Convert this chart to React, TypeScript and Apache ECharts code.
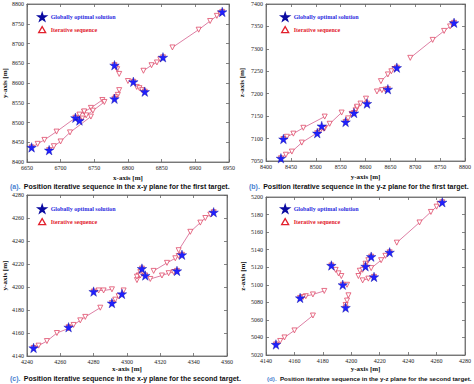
import React, { useEffect, useRef } from "react";
import * as echarts from "echarts";

// ---------- data ----------
// Panel (a): x-y plane, first target
const starsA = [[6940, 8780], [6852, 8665], [6808, 8603], [6780, 8645], [6825, 8578], [6780, 8560], [6722, 8512], [6728, 8505], [6657, 8437], [6683, 8430]];
const seqsA = [
  [[6866, 8690], [6905, 8735], [6922, 8757], [6932, 8770], [6937, 8776], [6940, 8780]],
  [[6823, 8631], [6835, 8645], [6843, 8652], [6848, 8660], [6852, 8665]],
  [[6787, 8623], [6784, 8635], [6782, 8640], [6780, 8645]],
  [[6787, 8582], [6785, 8570], [6782, 8564], [6780, 8560]],
  [[6800, 8605], [6808, 8603]],
  [[6813, 8590], [6817, 8587], [6821, 8582], [6825, 8578]],
  [[6762, 8557], [6745, 8537], [6735, 8527], [6728, 8520], [6722, 8512]],
  [[6765, 8552], [6748, 8530], [6738, 8518], [6732, 8510], [6728, 8505]],
  [[6735, 8528], [6694, 8477], [6676, 8456], [6666, 8446], [6657, 8437]],
  [[6745, 8515], [6714, 8475], [6700, 8452], [6690, 8440], [6683, 8430]],
];
// Panel (b): y-z plane, first target
const starsB = [[8778, 7358], [8663, 7258], [8645, 7210], [8603, 7178], [8577, 7157], [8560, 7137], [8512, 7128], [8503, 7112], [8435, 7099], [8430, 7056]];
const seqsB = [
  [[8690, 7280], [8735, 7320], [8758, 7340], [8770, 7350], [8775, 7355], [8778, 7358]],
  [[8631, 7228], [8645, 7243], [8652, 7250], [8658, 7255], [8663, 7258]],
  [[8623, 7205], [8633, 7208], [8640, 7209], [8645, 7210]],
  [[8601, 7189], [8603, 7178]],
  [[8590, 7178], [8583, 7168], [8580, 7163], [8577, 7157]],
  [[8583, 7171], [8572, 7155], [8565, 7145], [8560, 7137]],
  [[8518, 7149], [8475, 7124], [8455, 7111], [8442, 7104], [8435, 7099]],
  [[8552, 7158], [8528, 7133], [8518, 7123], [8508, 7116], [8503, 7112]],
  [[8516, 7122], [8472, 7091], [8452, 7071], [8440, 7064], [8430, 7056]],
];
// Panel (c): x-y plane, second target
const starsC = [[4352, 4265], [4333, 4228], [4330, 4214], [4309, 4216], [4311, 4210], [4280, 4196], [4297, 4194], [4291, 4186], [4265, 4165], [4244, 4147]];
const seqsC = [
  [[4331, 4232], [4338, 4248], [4344, 4256], [4347, 4260], [4350, 4263], [4352, 4265]],
  [[4316, 4214], [4324, 4221], [4329, 4225], [4331, 4227], [4333, 4228]],
  [[4314, 4207], [4321, 4210], [4325, 4212], [4328, 4213], [4330, 4214]],
  [[4306, 4206], [4307, 4210], [4308, 4213], [4309, 4216]],
  [[4306, 4209], [4308, 4210], [4311, 4210]],
  [[4291, 4198], [4286, 4197], [4283, 4197], [4280, 4196]],
  [[4298, 4197], [4295, 4192], [4293, 4189], [4291, 4186]],
  [[4284, 4182], [4275, 4174], [4272, 4171], [4268, 4167], [4265, 4165]],
  [[4265, 4164], [4258, 4160], [4252, 4153], [4247, 4149], [4244, 4147]],
];
// Panel (d): y-z plane, second target
const starsD = [[4264, 5194], [4227, 5137], [4216, 5109], [4214, 5132], [4210, 5121], [4186, 5122], [4194, 5100], [4196, 5074], [4164, 5085], [4147, 5032]];
const seqsD = [
  [[4232, 5148], [4248, 5171], [4256, 5183], [4260, 5189], [4262, 5192], [4264, 5194]],
  [[4214, 5119], [4221, 5128], [4224, 5133], [4227, 5137]],
  [[4208, 5105], [4212, 5107], [4216, 5109]],
  [[4206, 5116], [4210, 5124], [4212, 5128], [4214, 5132]],
  [[4205, 5110], [4208, 5117], [4210, 5121]],
  [[4193, 5110], [4191, 5113], [4189, 5117], [4186, 5122]],
  [[4197, 5100], [4194, 5100]],
  [[4198, 5088], [4197, 5082], [4196, 5077], [4196, 5074]],
  [[4181, 5093], [4173, 5089], [4168, 5087], [4166, 5086], [4164, 5085]],
  [[4173, 5065], [4160, 5048], [4153, 5040], [4150, 5036], [4147, 5032]],
];

const panelNames = [
  { x: "x-axis [m]", y: "y-axis [m]" },
  { x: "y-axis [m]", y: "z-axis [m]" },
  { x: "x-axis [m]", y: "y-axis [m]" },
  { x: "y-axis [m]", y: "z-axis [m]" },
];
const xRanges = [[6650, 6950, 50], [8400, 8800, 50], [4240, 4360, 20], [4140, 4280, 20]];
const yRanges = [[8400, 8800, 50], [7050, 7400, 50], [4140, 4280, 20], [5020, 5200, 20]];
const captions = [
  ["(a).", "Position iterative sequence in the x-y plane for the first target."],
  ["(b).", "Position iterative sequence in the y-z plane for the first target."],
  ["(c).", "Position iterative sequence in the x-y plane for the second target."],
  ["(d).", "Position iterative sequence in the y-z plane for the second target."],
];
const STAR_NAME = "Globally optimal solution";
const SEQ_NAME = "Iterative sequence";

// ---------- layout / style ----------
const grids = [
  { left: 23, top: 4, width: 206, height: 158 },
  { left: 266, top: 4, width: 201, height: 157 },
  { left: 23, top: 195, width: 204, height: 161 },
  { left: 266, top: 197, width: 200, height: 158 },
];
const xNameGaps = [12, 12, 9, 10];
const yNameGaps = [18, 21, 15, 20];
const legendPos = [
  { left: 33, top: 8 },
  { left: 276, top: 8 },
  { left: 33, top: 200 },
  { left: 276, top: 200 },
];
const captionPos = [
  { left: 10, top: 180, size: 7 },
  { left: 249, top: 180, size: 7 },
  { left: 10, top: 372, size: 7 },
  { left: 267, top: 372, size: 6.2 },
];

const STAR = "path://M50,0 L61,35 L98,35 L68,57 L79,91 L50,70 L21,91 L32,57 L2,35 L39,35 Z";
const AX = "#666";
const SERIF = "Liberation Serif";

export default function App() {
  const ref = useRef<HTMLDivElement>(null);
  useEffect(() => {
    if (!ref.current) return;
    const chart = echarts.init(ref.current, null, { renderer: "svg" });
    const xAxis: any[] = [];
    const yAxis: any[] = [];
    const series: any[] = [];
    const allStars = [starsA, starsB, starsC, starsD];
    const allSeqs = [seqsA, seqsB, seqsC, seqsD];
    const label = { fontSize: 6, color: "#222", fontFamily: SERIF, margin: 3, formatter: (v: number) => String(v) };
    const nameStyle = { fontSize: 7, fontWeight: "bold", fontFamily: SERIF, color: "#111" };
    for (let i = 0; i < 4; i++) {
      const [xmin, xmax, xi] = xRanges[i];
      const [ymin, ymax, yi] = yRanges[i];
      const common = {
        gridIndex: i,
        type: "value",
        splitLine: { show: false },
        axisLine: { show: true, lineStyle: { color: AX, width: 0.8 } },
        axisTick: { show: true, inside: true, length: 3, lineStyle: { color: AX, width: 0.8 } },
      };
      xAxis.push({
        ...common, min: xmin, max: xmax, interval: xi, position: "bottom", axisLabel: label,
        name: panelNames[i].x, nameLocation: "middle", nameGap: xNameGaps[i], nameTextStyle: nameStyle,
      });
      xAxis.push({ ...common, min: xmin, max: xmax, interval: xi, position: "top", axisLabel: { show: false } });
      yAxis.push({
        ...common, min: ymin, max: ymax, interval: yi, position: "left", axisLabel: label,
        name: panelNames[i].y, nameLocation: "middle", nameGap: yNameGaps[i], nameTextStyle: nameStyle,
      });
      yAxis.push({ ...common, min: ymin, max: ymax, interval: yi, position: "right", axisLabel: { show: false } });

      allSeqs[i].forEach((seq) => {
        series.push({
          type: "line", name: SEQ_NAME, xAxisIndex: 2 * i, yAxisIndex: 2 * i,
          data: seq, symbol: "triangle", symbolSize: 5, symbolRotate: 180,
          lineStyle: { color: "#d9709a", width: 0.9 },
          itemStyle: { color: "#ffffff", borderColor: "#e04a68", borderWidth: 0.8 },
          z: 3,
        });
      });
      series.push({
        type: "scatter", name: STAR_NAME, xAxisIndex: 2 * i, yAxisIndex: 2 * i,
        data: allStars[i], symbol: STAR, symbolSize: 9.5,
        itemStyle: { color: "#2020ff", borderColor: "#0a0aa0", borderWidth: 0.4, opacity: 1 },
        z: 5,
      });
    }
    const legend = legendPos.map((p) => ({
      ...p, orient: "vertical", itemWidth: 7, itemHeight: 6, itemGap: 5, selectedMode: false,
      textStyle: { fontSize: 6, fontFamily: SERIF, fontWeight: "bold" },
      data: [
        { name: STAR_NAME, icon: STAR, itemStyle: { color: "#2020ff" }, textStyle: { color: "#2a2ae0" } },
        { name: SEQ_NAME, icon: "triangle", itemStyle: { color: "#fff", borderColor: "#e2202c", borderWidth: 1.3 }, textStyle: { color: "#e2202c" } },
      ],
    }));
    const graphic = captions.map((c, i) => ({
      type: "text", left: captionPos[i].left, top: captionPos[i].top,
      style: {
        text: `{a|${c[0]}} {b|${c[1]}}`,
        rich: {
          a: { fill: "#4a7fd0", fontSize: captionPos[i].size, fontWeight: "bold", fontFamily: "Liberation Sans" },
          b: { fill: "#111", fontSize: captionPos[i].size, fontWeight: "bold", fontFamily: "Liberation Sans" },
        },
      },
    }));
    chart.setOption({
      animation: false,
      backgroundColor: "#fff",
      grid: grids.map((g) => ({ ...g, show: true, backgroundColor: "#fff", borderColor: AX, borderWidth: 0.8 })),
      xAxis, yAxis, series, legend, graphic,
    });
    return () => chart.dispose();
  }, []);
  return <div ref={ref} style={{ position: "fixed", left: 0, top: 0, width: 474, height: 384 }} />;
}
